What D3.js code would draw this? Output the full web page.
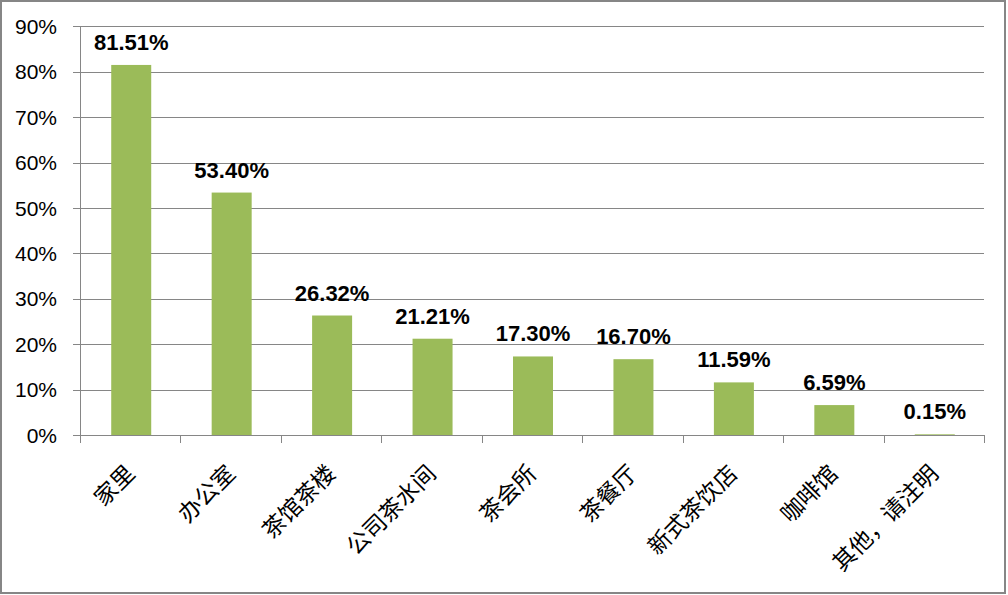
<!DOCTYPE html>
<html><head><meta charset="utf-8">
<script src="https://cdn.jsdelivr.net/npm/d3@7/dist/d3.min.js"></script>
<style>body{margin:0;background:#fff}svg{display:block}</style>
</head><body>
<script>
const categories = ["家里","办公室","茶馆茶楼","公司茶水间","茶会所","茶餐厅","新式茶饮店","咖啡馆","其他，请注明"];
const values = [81.51,53.40,26.32,21.21,17.30,16.70,11.59,6.59,0.15];
const yTicks = [0,10,20,30,40,50,60,70,80,90];

(function(){
const W=1008,H=595;
const svg=d3.select("body").append("svg").attr("width",W).attr("height",H);
svg.append("rect").attr("x",1).attr("y",1).attr("width",1004).attr("height",592)
  .attr("fill","#fff").attr("stroke","#868686").attr("stroke-width",2);

const pLeft=80,pRight=984,pTop=26.4,pBottom=435;
const x=d3.scaleBand().domain(categories).range([pLeft,pRight]).paddingInner(0).paddingOuter(0);
const y=d3.scaleLinear().domain([0,90]).range([pBottom,pTop]);
const grey="#868686";

svg.append("g").selectAll("line").data(yTicks).join("line")
  .attr("x1",pLeft-7).attr("x2",pRight).attr("y1",d=>Math.round(y(d))+0.5).attr("y2",d=>Math.round(y(d))+0.5)
  .attr("stroke",grey).attr("stroke-width",1);
svg.append("line").attr("x1",pLeft+0.5).attr("x2",pLeft+0.5).attr("y1",Math.round(y(90))).attr("y2",pBottom+8)
  .attr("stroke",grey);
const bounds=categories.map(c=>x(c)).concat([pRight]);
svg.append("g").selectAll("line").data(bounds.slice(1)).join("line")
  .attr("x1",d=>Math.round(d)+0.5).attr("x2",d=>Math.round(d)+0.5).attr("y1",pBottom).attr("y2",pBottom+8)
  .attr("stroke",grey);
svg.append("g").selectAll("text").data(yTicks).join("text")
  .attr("x",57).attr("y",d=>y(d)).attr("dy","0.36em").attr("text-anchor","end")
  .attr("font-family","Liberation Sans, Arial, sans-serif").attr("font-size",21).attr("fill","#000")
  .text(d=>d+"%");
const bw=40;
svg.append("g").selectAll("rect").data(values).join("rect")
  .attr("x",(d,i)=>x(categories[i])+x.bandwidth()/2-bw/2+1)
  .attr("width",bw)
  .attr("y",d=>y(d)).attr("height",d=>pBottom-y(d)).attr("fill","#9BBB59");
svg.append("g").selectAll("text").data(values).join("text")
  .attr("x",(d,i)=>x(categories[i])+x.bandwidth()/2+1).attr("y",d=>y(d)-15)
  .attr("text-anchor","middle").attr("font-family","Liberation Sans, Arial, sans-serif")
  .attr("font-weight","bold").attr("font-size",22).attr("fill","#000")
  .text(d=>d.toFixed(2)+"%");
svg.append("g").selectAll("text").data(categories).join("text")
  .attr("transform",c=>`translate(${x(c)+x.bandwidth()/2+6},${pBottom+40}) rotate(-45)`)
  .attr("text-anchor","end").attr("font-family","Noto Sans CJK SC, sans-serif")
  .attr("font-size",23).attr("fill","#000").text(c=>c);
})();
</script>
</body></html>
